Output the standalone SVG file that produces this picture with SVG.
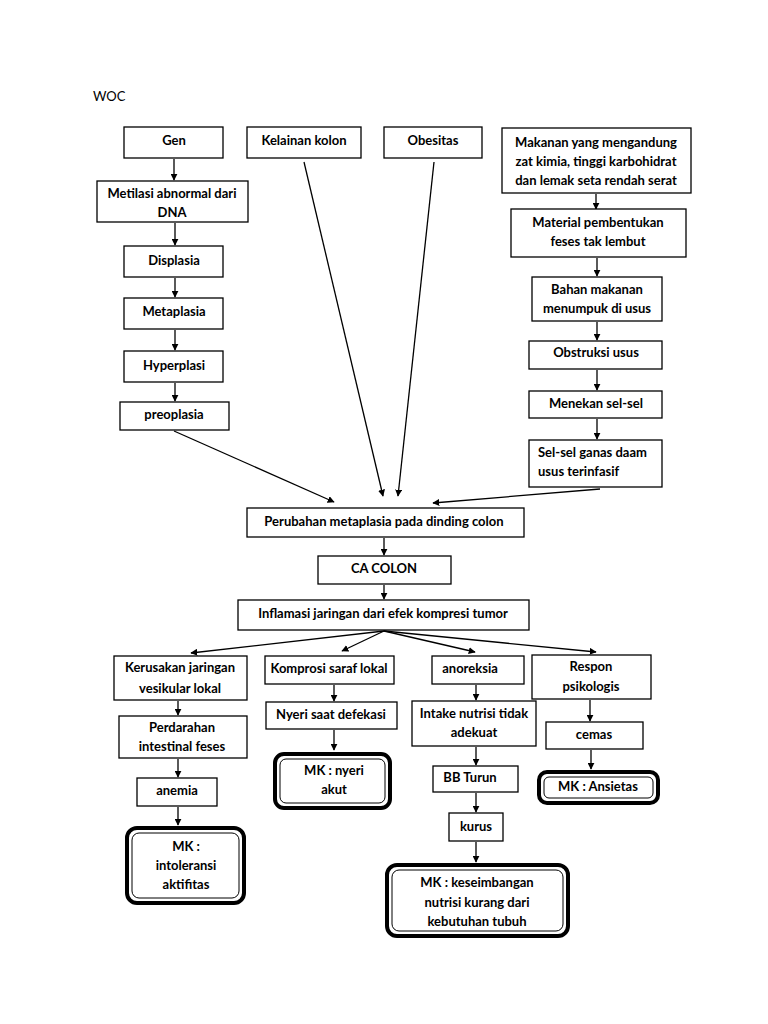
<svg xmlns="http://www.w3.org/2000/svg" width="768" height="1024" viewBox="0 0 768 1024">
<defs>
<style>
.b{fill:#fff;stroke:#000;stroke-width:1.3}
.o{fill:#fff;stroke:#000;stroke-width:4}
.i{fill:none;stroke:#000;stroke-width:1}
text{font-family:Lato,"Liberation Sans",sans-serif;font-weight:bold;font-size:13px;fill:#000;text-anchor:middle}
.l{text-anchor:start}
.c line{stroke:#000;stroke-width:1.3;marker-end:url(#ah)}
</style>
<marker id="ah" viewBox="0 0 10 10" refX="9" refY="5" markerWidth="7" markerHeight="7" markerUnits="userSpaceOnUse" orient="auto"><path d="M0,0 L10,5 L0,10 z" fill="#000"/></marker>
</defs>
<rect width="768" height="1024" fill="#fff"/>
<text x="93" y="101" class="l" style="font-weight:normal;font-size:13px">WOC</text>

<g class="c">
<line x1="174" y1="159" x2="174" y2="180"/>
<line x1="175" y1="223" x2="175" y2="245"/>
<line x1="175" y1="278" x2="175" y2="297"/>
<line x1="175" y1="330" x2="175" y2="350"/>
<line x1="175" y1="383" x2="175" y2="401"/>
<line x1="174" y1="431" x2="334" y2="502"/>
<line x1="304" y1="162" x2="383" y2="496"/>
<line x1="434" y1="162" x2="398" y2="496"/>
<line x1="600" y1="489" x2="433" y2="503"/>
<line x1="596" y1="194" x2="596" y2="209"/>
<line x1="597" y1="258" x2="597" y2="276"/>
<line x1="597" y1="322" x2="597" y2="340"/>
<line x1="597" y1="370" x2="597" y2="390"/>
<line x1="597" y1="419" x2="597" y2="439"/>
<line x1="384" y1="538" x2="384" y2="555"/>
<line x1="384" y1="585" x2="384" y2="599"/>
<line x1="384" y1="631" x2="191" y2="653"/>
<line x1="384" y1="631" x2="342" y2="651"/>
<line x1="384" y1="631" x2="475" y2="652"/>
<line x1="384" y1="631" x2="596" y2="652"/>
<line x1="178" y1="701" x2="178" y2="715"/>
<line x1="178" y1="759" x2="178" y2="777"/>
<line x1="178" y1="807" x2="178" y2="825"/>
<line x1="334" y1="685" x2="334" y2="701"/>
<line x1="334" y1="730" x2="334" y2="750"/>
<line x1="476" y1="685" x2="476" y2="700"/>
<line x1="476" y1="747" x2="476" y2="765"/>
<line x1="476" y1="793" x2="476" y2="812"/>
<line x1="476" y1="842" x2="476" y2="862"/>
<line x1="590" y1="700" x2="590" y2="721"/>
<line x1="591" y1="750" x2="591" y2="769"/>
</g>

<g id="gen"><rect class="b" x="124" y="127" width="99" height="31"/><text x="174" y="145">Gen</text></g>
<g id="kelainan"><rect class="b" x="247" y="127" width="114" height="31"/><text x="304" y="145">Kelainan kolon</text></g>
<g id="obesitas"><rect class="b" x="384" y="127" width="98" height="31"/><text x="433" y="145">Obesitas</text></g>
<g id="makanan"><rect class="b" x="502" y="128" width="189" height="65"/><text x="596" y="147">Makanan yang mengandung</text><text x="596" y="166">zat kimia, tinggi karbohidrat</text><text x="596" y="185">dan lemak seta rendah serat</text></g>
<g id="metilasi"><rect class="b" x="97" y="181" width="151" height="41"/><text x="172" y="198">Metilasi abnormal dari</text><text x="172" y="217">DNA</text></g>
<g id="displasia"><rect class="b" x="124" y="246" width="99" height="31"/><text x="174" y="265">Displasia</text></g>
<g id="metaplasia"><rect class="b" x="124" y="298" width="99" height="31"/><text x="174" y="316">Metaplasia</text></g>
<g id="hyperplasi"><rect class="b" x="124" y="351" width="99" height="31"/><text x="174" y="370">Hyperplasi</text></g>
<g id="preoplasia"><rect class="b" x="120" y="402" width="109" height="28"/><text x="174" y="419">preoplasia</text></g>
<g id="material"><rect class="b" x="511" y="209" width="175" height="48"/><text x="598" y="227">Material pembentukan</text><text x="598" y="246">feses tak lembut</text></g>
<g id="bahan"><rect class="b" x="532" y="277" width="130" height="44"/><text x="597" y="294">Bahan makanan</text><text x="597" y="313">menumpuk di usus</text></g>
<g id="obstruksi"><rect class="b" x="529" y="341" width="133" height="28"/><text x="596" y="357">Obstruksi usus</text></g>
<g id="menekan"><rect class="b" x="529" y="391" width="133" height="27"/><text x="596" y="408">Menekan sel-sel</text></g>
<g id="selsel"><rect class="b" x="529" y="440" width="133" height="47"/><text x="538" y="457" class="l">Sel-sel ganas daam</text><text x="538" y="476" class="l">usus terinfasif</text></g>
<g id="perubahan"><rect class="b" x="247" y="508" width="277" height="29"/><text x="384" y="526">Perubahan metaplasia pada dinding colon</text></g>
<g id="cacolon"><rect class="b" x="318" y="556" width="133" height="28"/><text x="384" y="573">CA COLON</text></g>
<g id="inflamasi"><rect class="b" x="238" y="600" width="291" height="30"/><text x="383" y="618">Inflamasi jaringan dari efek kompresi tumor</text></g>
<g id="kerusakan"><rect class="b" x="114" y="656" width="133" height="44"/><text x="180" y="672">Kerusakan jaringan</text><text x="180" y="693">vesikular lokal</text></g>
<g id="komprosi"><rect class="b" x="265" y="656" width="129" height="28"/><text x="329" y="673">Komprosi saraf lokal</text></g>
<g id="anoreksia"><rect class="b" x="432" y="656" width="92" height="28"/><text x="470" y="673">anoreksia</text></g>
<g id="respon"><rect class="b" x="532" y="655" width="119" height="44"/><text x="591" y="671">Respon</text><text x="591" y="691">psikologis</text></g>
<g id="perdarahan"><rect class="b" x="119" y="716" width="128" height="42"/><text x="182" y="732">Perdarahan</text><text x="182" y="751">intestinal feses</text></g>
<g id="nyeri"><rect class="b" x="266" y="702" width="131" height="27"/><text x="331" y="719">Nyeri saat defekasi</text></g>
<g id="intake"><rect class="b" x="412" y="701" width="124" height="45"/><text x="474" y="718">Intake nutrisi tidak</text><text x="474" y="737">adekuat</text></g>
<g id="cemas"><rect class="b" x="546" y="722" width="97" height="27"/><text x="594" y="739">cemas</text></g>
<g id="anemia"><rect class="b" x="137" y="778" width="80" height="28"/><text x="177" y="795">anemia</text></g>
<g id="mk-nyeri"><rect class="o" x="275" y="754" width="115" height="54" rx="9"/><rect class="i" x="280" y="759" width="105" height="44" rx="6"/><text x="334" y="775">MK : nyeri</text><text x="334" y="794">akut</text></g>
<g id="bbturun"><rect class="b" x="433" y="766" width="85" height="26"/><text x="470" y="782">BB Turun</text></g>
<g id="mk-ansietas"><rect class="o" x="539" y="772" width="119" height="31" rx="8"/><rect class="i" x="544" y="777" width="109" height="21" rx="5"/><text x="598" y="791">MK : Ansietas</text></g>
<g id="kurus"><rect class="b" x="449" y="813" width="54" height="28"/><text x="476" y="831">kurus</text></g>
<g id="mk-intoleransi"><rect class="o" x="127" y="828" width="117" height="75" rx="10"/><rect class="i" x="132" y="833" width="107" height="65" rx="7"/><text x="186" y="851">MK :</text><text x="186" y="870">intoleransi</text><text x="186" y="889">aktifitas</text></g>
<g id="mk-keseimbangan"><rect class="o" x="387" y="865" width="181" height="71" rx="10"/><rect class="i" x="392" y="870" width="171" height="61" rx="7"/><text x="477" y="887">MK : keseimbangan</text><text x="477" y="907">nutrisi kurang dari</text><text x="477" y="926">kebutuhan tubuh</text></g>
</svg>
